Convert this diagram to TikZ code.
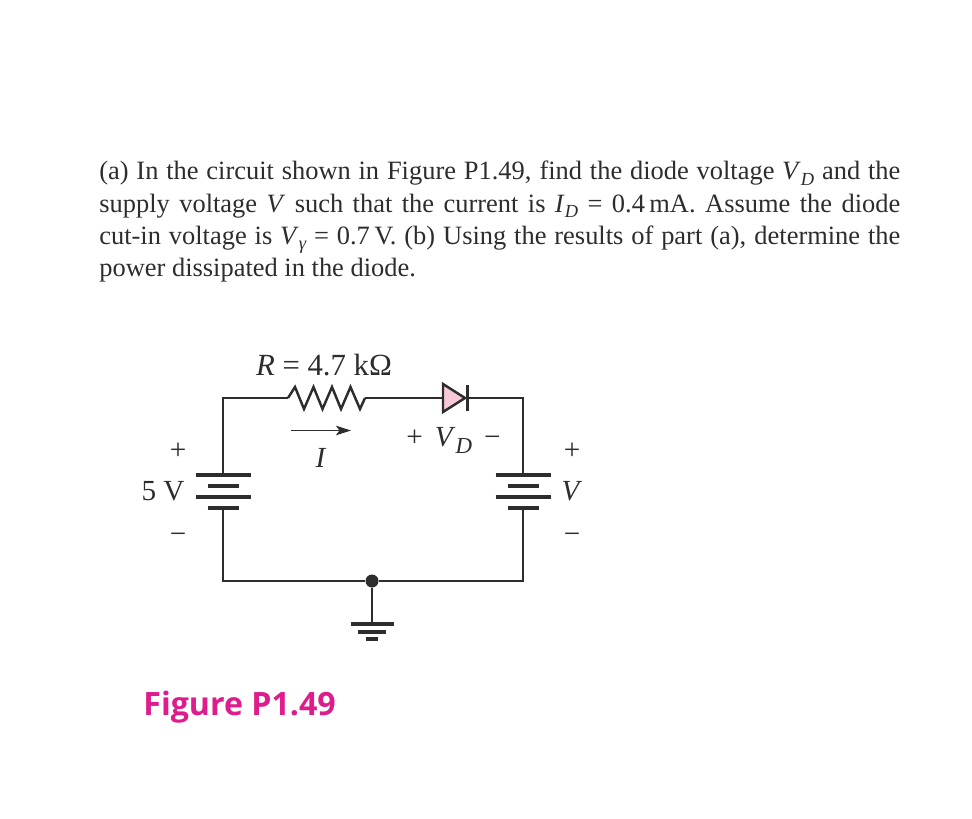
\documentclass[tikz,border=0pt]{standalone}
\usepackage{fontspec}
\setmainfont{Liberation Serif}
\newfontfamily\figfont{Open Sans}
\usepackage{xcolor}
\usetikzlibrary{positioning,calc,arrows.meta}
\definecolor{inkgray}{RGB}{45,45,45}
\definecolor{diodepink}{RGB}{246,200,216}
\definecolor{figmagenta}{RGB}{222,28,140}
\newcommand{\itsub}[2]{\textit{#1}\raisebox{-0.2em}{\fontsize{10.5}{12}\selectfont\itshape #2}}
\newcommand{\itsubbig}[2]{\textit{#1}\raisebox{-0.25em}{\fontsize{13}{14}\selectfont\itshape #2}}
\tikzset{
    wire/.style={draw=inkgray, line width=1.4pt},
    plate/.style={draw=inkgray, line width=1.8pt},
    textline/.style={anchor=base west, inner sep=0pt, text=inkgray, font=\fontsize{15.05}{18}\selectfont},
    label/.style={anchor=base, inner sep=0pt, text=inkgray, font=\fontsize{16.6}{18}\selectfont}
}
\begin{document}
\begin{tikzpicture}
\useasboundingbox (0,0) rectangle (19.44,16.36);
% 문제 본문
\node[textline] (lineone) at (1.98,12.76) {\makebox[16.02cm][s]{(a) In the circuit shown in Figure P1.49, find the diode voltage \itsub{V}{D} and the}};
\node[textline] (linetwo) at (1.98,12.11) {\makebox[16.02cm][s]{supply voltage \textit{V} such that the current is \itsub{I}{D} = 0.4\,mA. Assume the diode}};
\node[textline] (linethree) at (1.98,11.47) {\makebox[16.02cm][s]{cut-in voltage is \itsub{V}{γ} = 0.7\,V. (b) Using the results of part (a), determine the}};
\node[textline] (linefour) at (1.98,10.84) {power dissipated in the diode.};

% 회로 꼭짓점
\coordinate (topleft) at (4.46,8.40);
\coordinate (topright) at (10.46,8.40);
\coordinate (botleft) at (4.46,4.74);
\coordinate (botright) at (10.46,4.74);
\coordinate (leftplus) at (4.46,6.86);
\coordinate (leftminus) at (4.46,6.20);
\coordinate (rightplus) at (10.46,6.86);
\coordinate (rightminus) at (10.46,6.20);
\coordinate (resin) at (5.76,8.40);
\coordinate (resout) at (7.30,8.40);
\coordinate (diodein) at (8.86,8.40);
\coordinate (diodeout) at (9.34,8.40);
\node[circle, fill=inkgray, inner sep=0pt, minimum size=0.26cm] (gnddot) at (7.44,4.74) {};
\coordinate (gndend) at (7.44,3.88);

% 도선
\draw[wire] (leftplus) -- (topleft) -- (resin);
\draw[wire] (resout) -- (diodein);
\draw[wire] (diodeout) -- (topright) -- (rightplus);
\draw[wire] (leftminus) -- (botleft) -- (gnddot) -- (botright) -- (rightminus);
\draw[wire] (gnddot) -- (gndend);

% 저항
\draw[wire, line join=miter] (resin) -- ++(0.14,0.22)
    -- ++(0.18,-0.44) -- ++(0.19,0.44) -- ++(0.18,-0.44) -- ++(0.19,0.44)
    -- ++(0.18,-0.44) -- ++(0.19,0.44) -- ++(0.19,-0.44) -- (resout);

% 다이오드
\draw[wire, fill=diodepink] (8.86,8.68) -- (9.30,8.40) -- (8.86,8.12) -- cycle;
\draw[wire] (9.35,8.66) -- (9.35,8.14);

% 전지
\foreach \x in {4.46,10.46} {
    \draw[plate] (\x-0.55,6.86) -- (\x+0.55,6.86);
    \draw[plate] (\x-0.31,6.64) -- (\x+0.31,6.64);
    \draw[plate] (\x-0.55,6.42) -- (\x+0.55,6.42);
    \draw[plate] (\x-0.31,6.20) -- (\x+0.31,6.20);
}

% 접지
\draw[plate] (7.01,3.88) -- (7.88,3.88);
\draw[plate] (7.16,3.72) -- (7.72,3.72);
\draw[plate] (7.32,3.58) -- (7.56,3.58);

% 전류 화살표
\coordinate (currstart) at (5.82,7.75);
\coordinate (currend) at (7.02,7.75);
\draw[wire, line width=1pt, -{Stealth[length=0.3cm,width=0.19cm,inset=0.07cm]}] (currstart) -- (currend);

% 라벨
\node[label, font=\fontsize{17.5}{18}\selectfont] (rlabel) at (6.48,8.86) {\textit{R} = 4.7 kΩ};
\node[label] (ilabel) at (6.42,7.02) {\textit{I}};
\node[label] (vdlabel) at (9.07,7.44) {+ \,\itsubbig{V}{D}\, −};
\node[label] (lplus) at (3.56,7.18) {+};
\node[label] (fivev) at (3.26,6.35) {5 V};
\node[label] (lminus) at (3.56,5.50) {−};
\node[label] (rplus) at (11.44,7.18) {+};
\node[label] (vlabel) at (11.44,6.35) {\textit{V}};
\node[label] (rminus) at (11.44,5.50) {−};

% 그림 번호
\node[anchor=base west, inner sep=0pt, text=figmagenta, font=\figfont\bfseries\fontsize{18.3}{20}\selectfont] (figlabel) at (2.86,2.05) {Figure P1.49};
\end{tikzpicture}
\end{document}
